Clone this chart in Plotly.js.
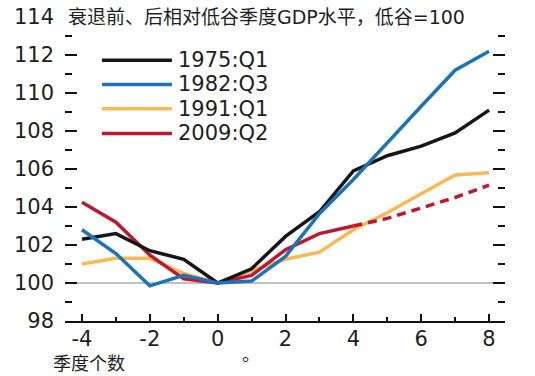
<!DOCTYPE html>
<html>
<head>
<meta charset="utf-8">
<script src="https://cdn.plot.ly/plotly-3.0.1.min.js"></script>
<style>html,body{margin:0;padding:0;background:#fff;}#chart{width:535px;height:376px;}</style>
</head>
<body>
<div id="chart"></div>
<script>
// ---- data ----
const quarters = [-4, -3, -2, -1, 0, 1, 2, 3, 4, 5, 6, 7, 8];
const seriesNames = ["1975:Q1", "1982:Q3", "1991:Q1", "2009:Q2"];
const s1975 = [102.3, 102.6, 101.7, 101.25, 100, 100.75, 102.45, 103.75, 105.9, 106.7, 107.2, 107.9, 109.1];
const s1982 = [102.8, 101.55, 99.85, 100.4, 100, 100.1, 101.4, 103.65, 105.45, 107.4, 109.3, 111.2, 112.2];
const s1991 = [101.0, 101.3, 101.3, 100.5, 100, 100.65, 101.25, 101.62, 102.8, 103.7, 104.7, 105.68, 105.8];
const s2009 = [104.25, 103.2, 101.47, 100.22, 100, 100.4, 101.75, 102.6, 103.0, 103.4, 103.95, 104.5, 105.15];
const projectionFrom = 4;   // 2009:Q2 values after this quarter are drawn dashed
const baseline = 100;       // trough = 100
const xTickVals = [-4, -2, 0, 2, 4, 6, 8];
const yTickVals = [98, 100, 102, 104, 106, 108, 110, 112, 114];
const titleText = "衰退前、后相对低谷季度GDP水平，低谷=100";
const xTitleText = "季度个数";

// ---- styling ----
const colors = ["#161616", "#1b74b9", "#f9b955", "#bf1730"];
const LW = 3.5;
const latin = "DejaVu Sans, Liberation Sans, Arial, sans-serif";
const cjk = "DejaVu Sans, Noto Sans CJK SC, sans-serif";
const textColor = "#1e1e1e";

const solid2009x = [], solid2009y = [], dash2009x = [], dash2009y = [];
quarters.forEach((q, i) => {
  if (q <= projectionFrom) { solid2009x.push(q); solid2009y.push(s2009[i]); }
  if (q >= projectionFrom) { dash2009x.push(q); dash2009y.push(s2009[i]); }
});

const mk = (x, y, c, name, dash) => ({
  type: "scatter", mode: "lines", x: x, y: y, name: name,
  line: {color: c, width: LW, dash: dash || "solid"}, showlegend: false, hoverinfo: "skip"
});

const traces = [
  mk(quarters, s1991, colors[2], seriesNames[2]),
  mk(solid2009x, solid2009y, colors[3], seriesNames[3]),
  mk(dash2009x, dash2009y, colors[3], seriesNames[3] + " (proj.)", "9px,6px"),
  mk(quarters, s1975, colors[0], seriesNames[0]),
  mk(quarters, s1982, colors[1], seriesNames[1])
];

// manual legend (long line samples as in the reference)
const legX0 = 0.084, legX1 = 0.243, legTextX = 0.255;
const legY = [0.858, 0.778, 0.698, 0.617];
const shapes = [{
  type: "line", xref: "paper", x0: 0, x1: 1, yref: "y", y0: baseline, y1: baseline,
  line: {color: "#ababab", width: 1.5}, layer: "below"
}];
const annotations = [];
seriesNames.forEach((n, i) => {
  shapes.push({type: "line", xref: "paper", yref: "paper", x0: legX0, x1: legX1, y0: legY[i], y1: legY[i],
    line: {color: colors[i], width: 3.5}});
  annotations.push({xref: "paper", yref: "paper", x: legTextX, y: legY[i], xanchor: "left", yanchor: "middle",
    text: n, showarrow: false, borderpad: 0, font: {family: latin, size: 21, color: textColor}});
});
annotations.push({xref: "paper", yref: "paper", x: -0.03, y: -0.135, xanchor: "left", yanchor: "middle",
  text: xTitleText, showarrow: false, borderpad: 0, font: {family: "Noto Sans CJK SC, sans-serif", size: 18, color: textColor}});
annotations.push({xref: "paper", yref: "paper", x: 0.4, y: -0.106, xanchor: "left", yanchor: "middle",
  text: "。", showarrow: false, borderpad: 0, font: {family: "Noto Sans CJK SC, sans-serif", size: 18, color: textColor}});

const layout = {
  width: 535, height: 376,
  margin: {l: 65, r: 30, t: 17, b: 55, pad: 0},
  paper_bgcolor: "#ffffff", plot_bgcolor: "#ffffff",
  showlegend: false,
  title: {text: titleText, xref: "container", yref: "container", x: 0.127, xanchor: "left",
    y: 1 - 17 / 376, yanchor: "middle", font: {family: cjk, size: 19, color: textColor}},
  xaxis: {
    range: [-4.5, 8.47], tickvals: xTickVals, ticktext: xTickVals.map(String),
    showgrid: false, zeroline: false, showline: true, linecolor: "#111", linewidth: 2,
    ticks: "inside", ticklen: 7, tickwidth: 2, tickcolor: "#111",
    minor: {dtick: 1, tick0: 0, ticks: "inside", ticklen: 4, tickwidth: 2, tickcolor: "#111", showgrid: false},
    tickfont: {family: latin, size: 21, color: textColor}, ticklabelstandoff: -2, fixedrange: true
  },
  yaxis: {
    range: [98, 114], tickvals: yTickVals, ticktext: yTickVals.map(String),
    showgrid: false, zeroline: false, showline: false, mirror: "ticks",
    ticks: "inside", ticklen: 12, tickwidth: 2, tickcolor: "#111",
    minor: {dtick: 1, tick0: 98, ticks: "inside", ticklen: 7, tickwidth: 2, tickcolor: "#111", showgrid: false},
    tickfont: {family: latin, size: 21, color: textColor}, ticklabelstandoff: 10, fixedrange: true
  },
  shapes: shapes,
  annotations: annotations
};

Plotly.newPlot("chart", traces, layout, {staticPlot: true, displayModeBar: false});
</script>
</body>
</html>
